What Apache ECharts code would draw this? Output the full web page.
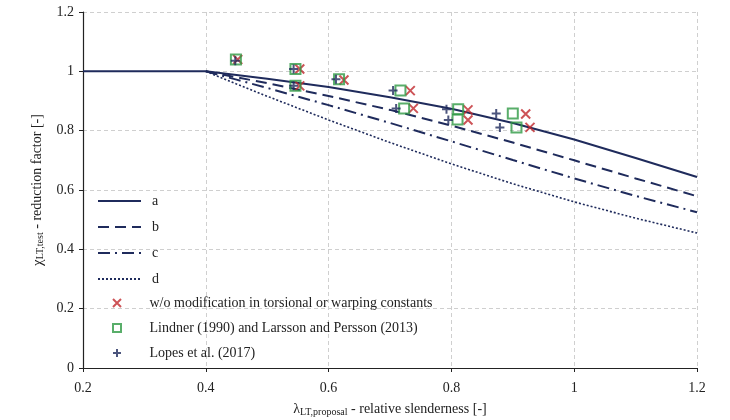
<!DOCTYPE html>
<html>
<head>
<meta charset="utf-8">
<script src="https://cdn.jsdelivr.net/npm/echarts@6/dist/echarts.min.js"></script>
<style>
  html, body { margin: 0; padding: 0; background: #fff; }
  #chart { width: 730px; height: 420px; }
</style>
</head>
<body>
<div id="chart"></div>
<script>
// 曲线的横坐标 (relative slenderness)
const lamA = [0.2, 0.4, 0.45, 0.5, 0.6, 0.7, 0.8, 0.9, 1.0, 1.1, 1.2]
const lamCurve = [0.4, 0.45, 0.5, 0.6, 0.7, 0.8, 0.9, 1.0, 1.1, 1.2]
// 曲线 a-d 的折减系数
const curveA = [1, 1, 0.988, 0.975, 0.947, 0.913, 0.874, 0.826, 0.770, 0.708, 0.644]
const curveB = [1, 0.980, 0.960, 0.917, 0.870, 0.817, 0.760, 0.700, 0.639, 0.579]
const curveC = [1, 0.972, 0.944, 0.886, 0.826, 0.764, 0.701, 0.639, 0.580, 0.525]
const curveD = [1, 0.957, 0.916, 0.836, 0.760, 0.688, 0.621, 0.560, 0.505, 0.455]

// 试验点
const woModX = [0.452, 0.553, 0.553, 0.625, 0.733, 0.738, 0.827, 0.827, 0.921, 0.928]
const woModY = [1.040, 1.008, 0.951, 0.971, 0.935, 0.875, 0.870, 0.836, 0.856, 0.811]
const lindnerX = [0.449, 0.546, 0.546, 0.617, 0.717, 0.723, 0.811, 0.810, 0.900, 0.906]
const lindnerY = [1.040, 1.008, 0.951, 0.973, 0.935, 0.875, 0.872, 0.838, 0.858, 0.811]
const lopesX = [0.448, 0.543, 0.543, 0.612, 0.705, 0.710, 0.792, 0.795, 0.873, 0.879]
const lopesY = [1.036, 1.008, 0.951, 0.973, 0.935, 0.875, 0.872, 0.836, 0.858, 0.811]

const xTicks = ['0.2', '0.4', '0.6', '0.8', '1', '1.2']

const zip = (xs, ys) => xs.map((x, i) => [x, ys[i]])

const navy = '#1f2b5c'
const serif = '"Liberation Serif", "Times New Roman", serif'

const nameWoMod = 'w/o modification in torsional or warping constants'
const nameLindner = 'Lindner (1990) and Larsson and Persson (2013)'
const nameLopes = 'Lopes et al. (2017)'

const myChart = echarts.init(document.getElementById('chart'))

const lineSeries = (name, xs, ys, type, width) => ({
  name: name,
  type: 'line',
  data: zip(xs, ys),
  showSymbol: false,
  symbol: 'none',
  lineStyle: { color: navy, width: width, type: type },
  itemStyle: { color: navy },
  z: 3
})

const crossPath = 'path://M0,0L10,10M10,0L0,10'
const plusPath = 'path://M5,0L5,10M0,5L10,5'
const squarePath = 'path://M0,0L10,0L10,10L0,10Z'

const legendText = { fontFamily: serif, fontSize: 14, color: '#222', padding: [0, 0, 0, 6] }

const options = {
  animation: false,
  textStyle: { fontFamily: serif },
  grid: { left: 83, right: 33, top: 12, bottom: 52, outerBoundsMode: 'none' },
  legend: [
    {
      orient: 'vertical',
      left: 92,
      top: 189,
      itemWidth: 43,
      itemHeight: 14,
      itemGap: 12,
      textStyle: legendText,
      data: ['a', 'b', 'c', 'd'].map(n => ({ name: n, itemStyle: { opacity: 0 } }))
    },
    {
      orient: 'vertical',
      left: 107,
      top: 291,
      itemWidth: 43,
      itemHeight: 8,
      itemGap: 11,
      textStyle: legendText,
      data: [nameWoMod, nameLindner, nameLopes]
    }
  ],
  xAxis: {
    type: 'value',
    min: 0.2,
    max: 1.2,
    interval: 0.2,
    name: '{l|λ}{s|LT,proposal}{n| - relative slenderness [-]}',
    nameLocation: 'middle',
    nameGap: 33,
    nameTextStyle: {
      rich: {
        l: { fontFamily: serif, fontSize: 14, color: '#222' },
        s: { fontFamily: serif, fontSize: 10, color: '#222', padding: [6, 0, 0, 0] },
        n: { fontFamily: serif, fontSize: 14, color: '#222' }
      }
    },
    axisLine: { onZero: false, lineStyle: { color: '#222', width: 1.2 } },
    axisTick: { show: true, length: 4, lineStyle: { color: '#222' } },
    axisLabel: {
      fontFamily: serif, fontSize: 14, color: '#222', margin: 13,
      formatter: v => xTicks[Math.round((v - 0.2) / 0.2)]
    },
    splitLine: { show: true, lineStyle: { color: '#cfcfcf', type: [4, 3] } }
  },
  yAxis: {
    type: 'value',
    min: 0,
    max: 1.2,
    interval: 0.2,
    name: '{l|χ}{s|LT,test}{n| - reduction factor [-]}',
    nameLocation: 'middle',
    nameGap: 31,
    nameTextStyle: {
      rich: {
        l: { fontFamily: serif, fontSize: 15, color: '#222' },
        s: { fontFamily: serif, fontSize: 10, color: '#222', padding: [6, 0, 0, 0] },
        n: { fontFamily: serif, fontSize: 14, color: '#222' }
      }
    },
    axisLine: { show: true, lineStyle: { color: '#222', width: 1.2 } },
    axisTick: { show: true, length: 4, lineStyle: { color: '#222' } },
    axisLabel: {
      fontFamily: serif, fontSize: 14, color: '#222', margin: 9,
      formatter: v => String(Math.round(v * 10) / 10)
    },
    splitLine: { show: true, lineStyle: { color: '#cfcfcf', type: [4, 3] } }
  },
  series: [
    lineSeries('a', lamA, curveA, 'solid', 2),
    lineSeries('b', lamCurve, curveB, [11, 6], 2),
    lineSeries('c', lamCurve, curveC, [12, 5, 2, 5], 2),
    lineSeries('d', lamCurve, curveD, [2, 2], 1.6),
    {
      name: nameWoMod,
      type: 'scatter',
      data: zip(woModX, woModY),
      symbol: crossPath,
      symbolSize: 9,
      itemStyle: { color: 'rgba(0,0,0,0)', borderColor: '#c0282d', borderWidth: 2 },
      z: 4
    },
    {
      name: nameLindner,
      type: 'scatter',
      data: zip(lindnerX, lindnerY),
      symbol: squarePath,
      symbolSize: 10,
      itemStyle: { color: 'rgba(0,0,0,0)', borderColor: '#2f9a45', borderWidth: 2 },
      z: 5
    },
    {
      name: nameLopes,
      type: 'scatter',
      data: zip(lopesX, lopesY),
      symbol: plusPath,
      symbolSize: 9,
      itemStyle: { color: 'rgba(0,0,0,0)', borderColor: navy, borderWidth: 2 },
      z: 6
    }
  ]
}

myChart.setOption(options)
</script>
</body>
</html>
